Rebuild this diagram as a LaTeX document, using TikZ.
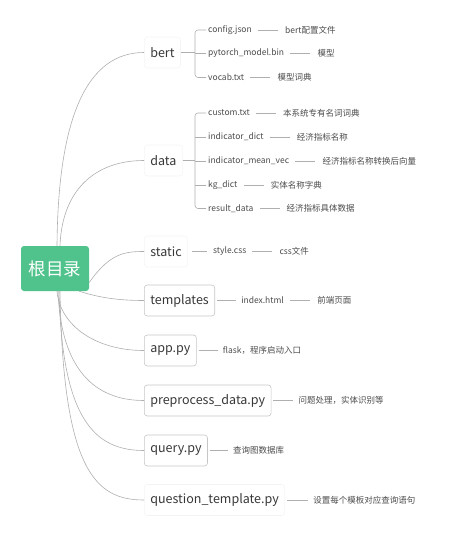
\documentclass[tikz,border=0pt]{standalone}
\usepackage{fontspec}
\setmainfont{Noto Sans CJK SC}
\usetikzlibrary{positioning}
\definecolor{rootg}{RGB}{80,195,140}
\definecolor{txtone}{RGB}{55,55,55}
\definecolor{txttwo}{RGB}{75,75,75}
\definecolor{lnc}{RGB}{175,175,175}
\begin{document}
\begin{tikzpicture}[x=1pt,y=-1pt,
  lone/.style={draw=gray!45, rounded corners=3pt, anchor=west, minimum height=31pt, inner xsep=6pt, font=\fontsize{12.5}{14}\selectfont, text=txtone, line width=0.6pt},
  lonef/.style={lone, draw=gray!9},
  ltwo/.style={anchor=west, inner xsep=2pt, inner ysep=1pt, font=\fontsize{8.5}{10}\selectfont, text=txttwo},
  conn/.style={draw=lnc, line width=0.6pt},
  bracket/.style={draw=lnc, line width=0.6pt, rounded corners=3pt}]
\useasboundingbox (0,0) rectangle (456,540);
% root
\node[fill=rootg, rounded corners=3pt, minimum width=68pt, minimum height=45pt, text=white, font=\fontsize{17.5}{20}\selectfont] (root) at (55,268.5) {根目录};
% level one
\node[lonef] (bert) at (144,52.5) {bert};
\node[lonef] (data) at (144,160.5) {data};
\node[lonef] (static) at (144,251.5) {static};
\node[lone] (templ) at (144,300.5) {templates};
\node[lone] (app) at (144,350.5) {app.py};
\node[lone] (prep) at (144,400.5) {preprocess\_data.py};
\node[lone] (query) at (144,450.5) {query.py};
\node[lonef] (quest) at (144,500) {question\_template.py};
% root connectors
\draw[conn] ([xshift=2pt]root.north) .. controls (58,115) and (88,52.5) .. (bert.west);
\draw[conn] ([xshift=5pt]root.north) .. controls (62,190) and (95,160.5) .. (data.west);
\draw[conn] ([yshift=-14pt]root.east) .. controls (110,253) and (125,251.5) .. (static.west);
\draw[conn] ([xshift=-10pt]root.south east) .. controls (100,298) and (120,300.5) .. (templ.west);
\draw[conn] ([xshift=2pt]root.south) .. controls (60,325) and (95,350.5) .. (app.west);
\draw[conn] ([xshift=3pt]root.south) .. controls (61,370) and (95,400.5) .. (prep.west);
\draw[conn] ([xshift=4pt]root.south) .. controls (62,420) and (95,450.5) .. (query.west);
\draw[conn] ([xshift=5pt]root.south) .. controls (63,470) and (95,500) .. (quest.west);
% bert children
\node[ltwo] (b1) at (206,30) {config.json};
\node[ltwo] (b2) at (206,53) {pytorch\_model.bin};
\node[ltwo] (b3) at (206,77.5) {vocab.txt};
\node[ltwo, right=29pt of b1] (b1l) {bert配置文件};
\node[ltwo, right=29pt of b2] (b2l) {模型};
\node[ltwo, right=29pt of b3] (b3l) {模型词典};
\draw[conn] (bert.east) -- (195,52.5);
\draw[bracket] (b1.west) -- (195,30) -- (195,77.5) -- (b3.west);
\draw[conn] (195,53) -- (b2.west);
\foreach \c in {b1,b2,b3}{\draw[conn] ([xshift=4pt]\c.east) -- ([xshift=-5pt]\c l.west);}
% data children
\node[ltwo] (d1) at (206,113) {custom.txt};
\node[ltwo] (d2) at (206,137) {indicator\_dict};
\node[ltwo] (d3) at (206,161) {indicator\_mean\_vec};
\node[ltwo] (d4) at (206,185) {kg\_dict};
\node[ltwo] (d5) at (206,208.5) {result\_data};
\node[ltwo, right=29pt of d1] (d1l) {本系统专有名词词典};
\node[ltwo, right=29pt of d2] (d2l) {经济指标名称};
\node[ltwo, right=29pt of d3] (d3l) {经济指标名称转换后向量};
\node[ltwo, right=29pt of d4] (d4l) {实体名称字典};
\node[ltwo, right=29pt of d5] (d5l) {经济指标具体数据};
\draw[conn] (data.east) -- (195,160.5);
\draw[bracket] (d1.west) -- (195,113) -- (195,208.5) -- (d5.west);
\foreach \c in {d2,d3,d4}{\draw[conn] (195,0 |- \c.west) -- (\c.west);}
\foreach \c in {d1,d2,d3,d4,d5}{\draw[conn] ([xshift=4pt]\c.east) -- ([xshift=-5pt]\c l.west);}
% single children
\node[ltwo, right=23pt of static] (s1) {style.css};
\node[ltwo, right=29pt of s1] (s1l) {css文件};
\draw[conn] ([xshift=4pt]static.east) -- ([xshift=-4pt]s1.west);
\draw[conn] ([xshift=4pt]s1.east) -- ([xshift=-5pt]s1l.west);
\node[ltwo, right=24pt of templ] (t1) {index.html};
\node[ltwo, right=29pt of t1] (t1l) {前端页面};
\draw[conn] ([xshift=2pt]templ.east) -- ([xshift=-3pt]t1.west);
\draw[conn] ([xshift=4pt]t1.east) -- ([xshift=-5pt]t1l.west);
\node[ltwo, right=24pt of app] (a1) {flask，程序启动入口};
\draw[conn] ([xshift=2pt]app.east) -- ([xshift=-3pt]a1.west);
\node[ltwo, right=25pt of prep] (p1) {问题处理，实体识别等};
\draw[conn] ([xshift=2pt]prep.east) -- ([xshift=-3pt]p1.west);
\node[ltwo, right=23pt of query] (q1) {查询图数据库};
\draw[conn] ([xshift=2pt]query.east) -- ([xshift=-3pt]q1.west);
\node[ltwo, right=26pt of quest] (qt1) {设置每个模板对应查询语句};
\draw[conn] ([xshift=2pt]quest.east) -- ([xshift=-3pt]qt1.west);
\end{tikzpicture}
\end{document}
